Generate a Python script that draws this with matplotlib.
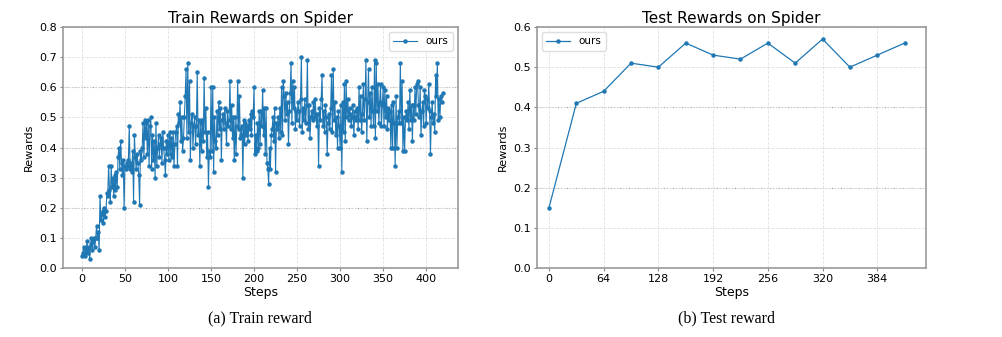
import matplotlib
matplotlib.use("Agg")
import matplotlib.pyplot as plt
import numpy as np

train_rewards = [
    0.04, 0.05, 0.07, 0.04, 0.05, 0.06, 0.09, 0.05, 0.07, 0.03,
    0.08, 0.10, 0.06, 0.09, 0.10, 0.07, 0.10, 0.14, 0.10, 0.12,
    0.06, 0.24, 0.16, 0.18, 0.19, 0.15, 0.20, 0.17, 0.19, 0.25,
    0.24, 0.34, 0.26, 0.22, 0.34, 0.27, 0.30, 0.24, 0.31, 0.26,
    0.32, 0.27, 0.37, 0.40, 0.33, 0.42, 0.35, 0.31, 0.36, 0.20,
    0.34, 0.33, 0.35, 0.34, 0.36, 0.47, 0.33, 0.35, 0.32, 0.39,
    0.22, 0.44, 0.37, 0.33, 0.38, 0.35, 0.31, 0.21, 0.39, 0.36,
    0.40, 0.48, 0.37, 0.49, 0.43, 0.48, 0.38, 0.49, 0.34, 0.47,
    0.50, 0.33, 0.44, 0.36, 0.42, 0.30, 0.48, 0.34, 0.40, 0.44,
    0.37, 0.41, 0.43, 0.35, 0.45, 0.40, 0.36, 0.31, 0.42, 0.38,
    0.44, 0.36, 0.45, 0.38, 0.43, 0.37, 0.45, 0.34, 0.41, 0.45,
    0.47, 0.34, 0.51, 0.48, 0.55, 0.42, 0.50, 0.39, 0.43, 0.50,
    0.57, 0.66, 0.43, 0.68, 0.45, 0.62, 0.36, 0.48, 0.51, 0.40,
    0.47, 0.50, 0.41, 0.47, 0.65, 0.44, 0.49, 0.34, 0.48, 0.39,
    0.49, 0.42, 0.63, 0.45, 0.53, 0.37, 0.45, 0.27, 0.39, 0.37,
    0.60, 0.39, 0.60, 0.32, 0.50, 0.42, 0.40, 0.52, 0.44, 0.55,
    0.46, 0.53, 0.36, 0.49, 0.51, 0.46, 0.53, 0.48, 0.41, 0.52,
    0.47, 0.49, 0.62, 0.46, 0.54, 0.43, 0.50, 0.36, 0.50, 0.38,
    0.47, 0.62, 0.46, 0.57, 0.43, 0.44, 0.47, 0.30, 0.49, 0.41,
    0.48, 0.44, 0.47, 0.42, 0.49, 0.46, 0.51, 0.44, 0.52, 0.50,
    0.60, 0.38, 0.44, 0.39, 0.48, 0.40, 0.52, 0.41, 0.52, 0.47,
    0.59, 0.44, 0.53, 0.38, 0.53, 0.35, 0.33, 0.28, 0.40, 0.33,
    0.44, 0.46, 0.50, 0.42, 0.53, 0.32, 0.48, 0.46, 0.50, 0.43,
    0.53, 0.45, 0.60, 0.44, 0.62, 0.57, 0.49, 0.58, 0.51, 0.55,
    0.41, 0.52, 0.58, 0.68, 0.48, 0.62, 0.53, 0.60, 0.46, 0.52,
    0.49, 0.55, 0.52, 0.47, 0.56, 0.70, 0.45, 0.53, 0.49, 0.56,
    0.48, 0.54, 0.69, 0.46, 0.54, 0.43, 0.50, 0.52, 0.49, 0.55,
    0.50, 0.56, 0.51, 0.47, 0.51, 0.34, 0.53, 0.49, 0.56, 0.64,
    0.47, 0.52, 0.45, 0.54, 0.50, 0.38, 0.48, 0.51, 0.46, 0.53,
    0.64, 0.45, 0.66, 0.49, 0.55, 0.44, 0.50, 0.40, 0.52, 0.47,
    0.40, 0.54, 0.32, 0.55, 0.45, 0.61, 0.42, 0.62, 0.50, 0.56,
    0.49, 0.53, 0.51, 0.47, 0.50, 0.54, 0.44, 0.52, 0.49, 0.50,
    0.53, 0.46, 0.60, 0.49, 0.57, 0.45, 0.51, 0.61, 0.49, 0.56,
    0.69, 0.42, 0.55, 0.66, 0.50, 0.58, 0.47, 0.60, 0.52, 0.47,
    0.69, 0.43, 0.68, 0.52, 0.61, 0.48, 0.55, 0.61, 0.47, 0.54,
    0.60, 0.47, 0.59, 0.50, 0.57, 0.46, 0.53, 0.49, 0.52, 0.40,
    0.54, 0.40, 0.55, 0.48, 0.34, 0.57, 0.40, 0.50, 0.52, 0.48,
    0.68, 0.48, 0.62, 0.39, 0.50, 0.39, 0.50, 0.52, 0.49, 0.55,
    0.46, 0.59, 0.49, 0.54, 0.42, 0.54, 0.49, 0.60, 0.51, 0.61,
    0.62, 0.54, 0.50, 0.60, 0.44, 0.52, 0.55, 0.47, 0.59, 0.57,
    0.48, 0.56, 0.53, 0.61, 0.52, 0.38, 0.50, 0.55, 0.48, 0.51,
    0.45, 0.64, 0.57, 0.68, 0.49, 0.56, 0.50, 0.57, 0.55, 0.58,
]
train_steps = list(range(len(train_rewards)))

test_steps = [0, 32, 64, 96, 128, 160, 192, 224, 256, 288, 320, 352, 384, 416]
test_rewards = [0.15, 0.41, 0.44, 0.51, 0.50, 0.56, 0.53, 0.52, 0.56, 0.51, 0.57, 0.50, 0.53, 0.56]

train_xticks = [0, 50, 100, 150, 200, 250, 300, 350, 400]
test_xticks = [0, 64, 128, 192, 256, 320, 384]
train_yticks = [0.0, 0.1, 0.2, 0.3, 0.4, 0.5, 0.6, 0.7, 0.8]
test_yticks = [0.0, 0.1, 0.2, 0.3, 0.4, 0.5, 0.6]

color = "#1f77b4"
W, H = 1003, 337
fig = plt.figure(figsize=(W / 100, H / 100), dpi=100)

def px_axes(x0, y0, x1, y1):
    return fig.add_axes([x0 / W, 1 - y1 / H, (x1 - x0) / W, (y1 - y0) / H])

ax1 = px_axes(63, 27, 458, 268)
ax2 = px_axes(537, 27, 926, 268)

def style(ax, title, yticks, xticks, darklines, legend_loc):
    ax.set_title(title, fontsize=11, pad=3)
    ax.set_xlabel("Steps", fontsize=9, labelpad=1)
    ax.set_ylabel("Rewards", fontsize=8, labelpad=4)
    ax.set_yticks(yticks)
    ax.set_xticks(xticks)
    ax.tick_params(labelsize=8, length=2.5, color="#888888", pad=2)
    ax.grid(True, linestyle="--", linewidth=0.6, color="#e0e0e0")
    for v in darklines:
        ax.axhline(v, color="#999999", linestyle=":", linewidth=0.8, zorder=1)
    for s in ax.spines.values():
        s.set_color("#999999")
        s.set_linewidth(1.2)
    ax.legend(loc=legend_loc, fontsize=7.5, handlelength=2.3, borderpad=0.4,
              framealpha=1, edgecolor="#dddddd", fancybox=True)

ax1.plot(train_steps, train_rewards, color=color, marker="o", markersize=2.2,
         linewidth=0.8, label="ours", zorder=3)
ax1.set_xlim(-22, 437)
ax1.set_ylim(0, 0.8)
style(ax1, "Train Rewards on Spider", train_yticks, train_xticks, [0.2, 0.4, 0.6], "upper right")

ax2.plot(test_steps, test_rewards, color=color, marker="o", markersize=2.2,
         linewidth=0.9, label="ours", zorder=3)
ax2.set_xlim(-14, 441)
ax2.set_ylim(0, 0.6)
style(ax2, "Test Rewards on Spider", test_yticks, test_xticks, [0.2, 0.4], "upper left")

fig.text(260 / W, 1 - 318 / H, "(a) Train reward", ha="center", va="center",
         fontsize=11.5, family="Liberation Serif")
fig.text(727 / W, 1 - 318 / H, "(b) Test reward", ha="center", va="center",
         fontsize=11.5, family="Liberation Serif")

fig.savefig("out.png", dpi=100)
